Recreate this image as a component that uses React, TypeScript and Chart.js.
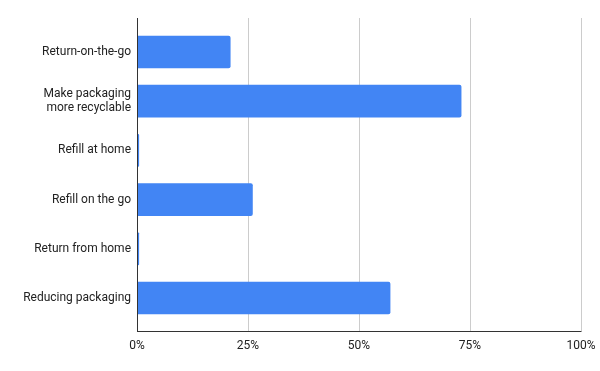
import React, { useEffect, useRef } from "react";
import { Chart, registerables } from "chart.js";

Chart.register(...registerables);

const categories: (string | string[])[] = [
  "Return-on-the-go",
  ["Make packaging", "more recyclable"],
  "Refill at home",
  "Refill on the go",
  "Return from home",
  "Reducing packaging",
];
const values = [21, 73, 0.4, 26, 0.4, 57];
const xTicks = [0, 25, 50, 75, 100];

const GRID_TOP = 18;
const GRID_BOTTOM = 331;

const framePlugin = {
  id: "frame",
  beforeDatasetsDraw(chart: any) {
    const { ctx, scales } = chart;
    const x = scales.x;
    ctx.save();
    ctx.strokeStyle = "#cccccc";
    ctx.lineWidth = 1;
    for (const t of xTicks) {
      if (t === 0) continue;
      const px = Math.round(x.getPixelForValue(t)) + 0.5;
      ctx.beginPath();
      ctx.moveTo(px, GRID_TOP);
      ctx.lineTo(px, GRID_BOTTOM);
      ctx.stroke();
    }
    ctx.restore();
  },
  afterDatasetsDraw(chart: any) {
    const { ctx, scales } = chart;
    const x = scales.x;
    const x0 = Math.round(x.getPixelForValue(0)) + 0.5;
    const x1 = Math.round(x.getPixelForValue(100)) + 0.5;
    ctx.save();
    ctx.strokeStyle = "#333333";
    ctx.lineWidth = 1;
    ctx.beginPath();
    ctx.moveTo(x0, GRID_TOP);
    ctx.lineTo(x0, GRID_BOTTOM + 0.5);
    ctx.moveTo(x0 - 0.5, GRID_BOTTOM + 0.5);
    ctx.lineTo(x1, GRID_BOTTOM + 0.5);
    ctx.stroke();
    ctx.restore();
  },
};

export default function App() {
  const ref = useRef<HTMLCanvasElement>(null);
  useEffect(() => {
    document.body.style.margin = "0";
    const canvas = ref.current!;
    const chart = new Chart(canvas, {
      type: "bar",
      data: {
        labels: categories as any,
        datasets: [
          {
            data: values,
            backgroundColor: "#4285F4",
            barThickness: 32,
            borderRadius: 2,
          },
        ],
      },
      options: {
        indexAxis: "y",
        animation: false,
        responsive: false,
        maintainAspectRatio: false,
        layout: { autoPadding: false, padding: { top: 27.4, right: 19, left: 0, bottom: 0 } },
        plugins: { legend: { display: false }, tooltip: { enabled: false } },
        scales: {
          x: {
            type: "linear",
            min: 0,
            max: 100,
            afterBuildTicks: (scale: any) => {
              scale.ticks = xTicks.map((v) => ({ value: v }));
            },
            afterFit: (scale: any) => {
              scale.height = 371 - 322.6;
              scale.paddingLeft = 0;
              scale.paddingRight = 0;
            },
            grid: { display: false, drawTicks: false },
            border: { display: false },
            ticks: {
              padding: 16,
              color: "#222222",
              font: { family: "Roboto", size: 12 },
              callback: (v: any) => v + "%",
              maxRotation: 0,
            },
          },
          y: {
            type: "category",
            afterFit: (scale: any) => {
              scale.width = 137;
              scale.paddingTop = 0;
              scale.paddingBottom = 0;
            },
            grid: { display: false, drawTicks: false },
            border: { display: false },
            ticks: {
              padding: 6,
              color: "#222222",
              font: { family: "Roboto", size: 12, lineHeight: 1.2 },
            },
          },
        },
      },
      plugins: [framePlugin],
    });
    return () => chart.destroy();
  }, []);
  return (
    <div style={{ width: 600, height: 371, position: "relative" }}>
      <canvas ref={ref} width={600} height={371} style={{ width: 600, height: 371, display: "block" }} />
    </div>
  );
}
